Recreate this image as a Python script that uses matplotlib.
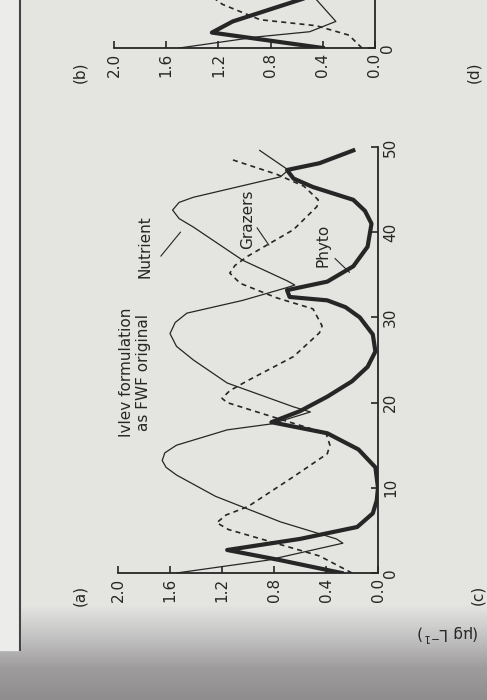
import numpy as np
import matplotlib.pyplot as plt
from matplotlib.colors import LinearSegmentedColormap

phyto_t = [0, 1.5, 2.7, 4, 5.4, 7, 8.5, 10, 12.4, 14.5, 16.4, 17.7, 19, 20.7, 22.5, 24.2, 26, 28, 30, 31.2, 32, 32.4, 33.2, 34.2, 36, 38.3, 41, 42.5, 43.8, 45.3, 46.3, 47.3, 48.1, 49.6]
phyto_v = [0.28, 0.75, 1.16, 0.6, 0.16, 0.04, 0.01, 0.0, 0.02, 0.15, 0.39, 0.82, 0.6, 0.39, 0.2, 0.08, 0.02, 0.04, 0.14, 0.25, 0.39, 0.68, 0.7, 0.39, 0.19, 0.08, 0.05, 0.1, 0.19, 0.5, 0.65, 0.7, 0.45, 0.19]

nut_t = [0, 1.5, 3.5, 4.0, 6, 9, 11.5, 12.4, 13.2, 14.1, 15, 16.8, 17.5, 18.9, 19.5, 22.3, 25, 26.6, 28.1, 29.4, 30.5, 32, 33.5, 33.8, 34.3, 36.7, 40.6, 41.6, 42.6, 43.5, 44.1, 46.5, 47.3, 49.6]
nut_v = [1.55, 0.85, 0.27, 0.32, 0.75, 1.25, 1.55, 1.63, 1.66, 1.64, 1.55, 1.16, 0.82, 0.52, 0.65, 1.16, 1.42, 1.55, 1.6, 1.56, 1.47, 1.04, 0.7, 0.64, 0.7, 1.04, 1.42, 1.53, 1.58, 1.53, 1.42, 0.75, 0.69, 0.91]

graz_t = [0, 2, 4, 5.1, 5.9, 6.8, 7.8, 11.3, 14, 15, 16.4, 17.8, 20, 20.5, 21.4, 22.6, 25.4, 28.2, 29, 31, 32.3, 34, 35.2, 36.1, 37.2, 40.3, 43, 43.8, 45.4, 46.8, 47.7, 48.5]
graz_v = [0.2, 0.45, 0.9, 1.15, 1.24, 1.17, 1.0, 0.65, 0.39, 0.37, 0.4, 0.7, 1.16, 1.2, 1.14, 1.0, 0.65, 0.45, 0.43, 0.5, 0.78, 1.06, 1.14, 1.1, 1.0, 0.65, 0.47, 0.46, 0.57, 0.78, 0.96, 1.12]

# panel (b), only its first days are on the page
b_phyto_t = [0, 1.8, 3.1, 6]
b_phyto_v = [0.4, 1.25, 1.09, 0.5]
b_nut_t = [0, 1.3, 1.9, 3.1, 6]
b_nut_v = [1.5, 0.9, 0.5, 0.3, 0.47]
b_graz_t = [0, 1.5, 2.6, 3.3, 5.1, 6]
b_graz_v = [0.1, 0.2, 0.45, 0.88, 1.17, 1.25]

val_ticks = [0.0, 0.4, 0.8, 1.2, 1.6, 2.0]
time_ticks = [0, 10, 20, 30, 40, 50]

paper = '#e4e4e1'
ink = '#262626'

fig = plt.figure(figsize=(4.87, 7), dpi=100, facecolor=paper)

# dark shadow at the page bottom
shade = LinearSegmentedColormap.from_list('shade', [paper, '#c4c3c3', '#9e9c9d', '#8f8d8e'])
sh = fig.add_axes([0, 0, 1, 95 / 700])
sh.imshow(np.linspace(0, 1, 100)[:, None], aspect='auto', cmap=shade, extent=[0, 1, 0, 1])
sh.axis('off')

# page edge on the left
fig.add_artist(plt.Line2D([20 / 487, 20 / 487], [1 - 650 / 700, 1], color='#444444', lw=1.5))
fig.patches.append(plt.Rectangle((0, 1 - 650 / 700), 20 / 487, 650 / 700, transform=fig.transFigure,
                                 color='#ececea', zorder=0))


def style(ax):
    ax.set_facecolor('none')
    ax.set_xlim(2.0, 0.0)
    for s in ['top', 'left']:
        ax.spines[s].set_visible(False)
    for s in ['right', 'bottom']:
        ax.spines[s].set_color(ink)
        ax.spines[s].set_linewidth(1.3)
    ax.yaxis.tick_right()
    ax.set_xticks(val_ticks)
    ax.set_xticklabels(['%.1f' % v for v in val_ticks], rotation=90, fontsize=11, color=ink)
    ax.tick_params(direction='in', length=5, width=1.2, color=ink)


# panel (a)
ax = fig.add_axes([118 / 487, 1 - 573 / 700, 260 / 487, 426 / 700])
style(ax)
ax.set_ylim(0, 50)
ax.set_yticks(time_ticks)
ax.set_yticklabels([str(t) for t in time_ticks], rotation=90, va='center', fontsize=11, color=ink)
ax.plot(nut_v, nut_t, color=ink, lw=0.9)
ax.plot(graz_v, graz_t, color=ink, lw=1.2, ls=(0, (3, 2.5)))
ax.plot(phyto_v, phyto_t, color=ink, lw=3)

ax.text(1.87, 23.5, 'Ivlev formulation\nas FWF original', rotation=90, ha='center', va='center', fontsize=11, color=ink)
ax.text(1.79, 38.3, 'Nutrient', rotation=90, ha='center', va='center', fontsize=11, color=ink)
ax.plot([1.67, 1.52], [37.2, 40.0], color=ink, lw=0.8)
ax.text(1.0, 41.5, 'Grazers', rotation=90, ha='center', va='center', fontsize=11, color=ink)
ax.plot([0.93, 0.84], [40.5, 38.5], color=ink, lw=0.8)
ax.text(0.42, 38.5, 'Phyto', rotation=90, ha='center', va='center', fontsize=11, color=ink)
ax.plot([0.33, 0.22], [36.9, 35.3], color=ink, lw=0.8)

# panel (b), cut by the page top
axb = fig.add_axes([114 / 487, 1 - 48 / 700, 261 / 487, 48 / 700])
style(axb)
axb.set_ylim(0, 5.6)
axb.set_yticks([0])
axb.set_yticklabels(['0'], rotation=90, va='center', fontsize=11, color=ink)
axb.plot(b_nut_v, b_nut_t, color=ink, lw=0.9)
axb.plot(b_graz_v, b_graz_t, color=ink, lw=1.2, ls=(0, (3, 2.5)))
axb.plot(b_phyto_v, b_phyto_t, color=ink, lw=3)

for txt, x, y in [('(a)', 80, 595), ('(b)', 80, 72), ('(c)', 478, 595), ('(d)', 474, 72)]:
    fig.text(x / 487, 1 - y / 700, txt, rotation=90, ha='center', va='center', fontsize=11, color=ink)
fig.text(448 / 487, 1 - 633 / 700, '(µg L$^{-1}$)', rotation=180, ha='center', va='center',
         fontsize=11, color=ink)

fig.savefig('out.png', dpi=100, facecolor=paper)
